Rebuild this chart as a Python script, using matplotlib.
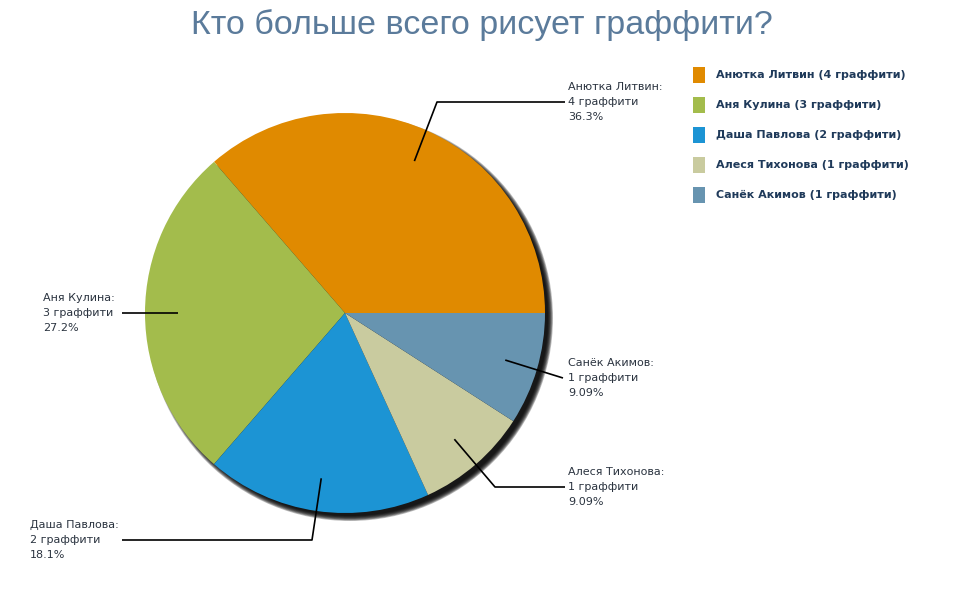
import matplotlib.pyplot as plt
import matplotlib.patches as mpatches
import numpy as np

# data
names = ['Анютка Литвин', 'Аня Кулина', 'Даша Павлова', 'Алеся Тихонова', 'Санёк Акимов']
counts = [4, 3, 2, 1, 1]
pct_labels = ['36.3%', '27.2%', '18.1%', '9.09%', '9.09%']
colors = ['#E08A00', '#A3BC4C', '#1C94D4', '#C9CB9F', '#6794B0']

W, H = 966, 604
fig = plt.figure(figsize=(W / 100, H / 100), dpi=100)
ax = fig.add_axes([0, 0, 1, 1])

def Y(y):
    return H - y

cx, cy, R = 345, Y(313), 200

# soft black shadow to lower right
for k in range(8):
    ax.add_patch(mpatches.Circle((cx + 5, cy - 5), R + 3 - k * 0.7,
                                 color='black', alpha=0.25, lw=0, zorder=1))

wedges, _ = ax.pie(counts, colors=colors, startangle=0, counterclock=True,
                   center=(cx, cy), radius=R, frame=True,
                   wedgeprops=dict(linewidth=0))
for w in wedges:
    w.set_zorder(2)
ax.set_xlim(0, W)
ax.set_ylim(0, H)
ax.set_aspect('equal')
ax.axis('off')

# label layout: (elbow point, end of horizontal line, text anchor)
layout = [
    ((437, 102), (565, 102), (568, 102)),
    ((122, 313), (122, 313), (43, 313)),
    ((312, 540), (122, 540), (30, 540)),
    ((495, 487), (565, 487), (568, 487)),
    ((563, 378), (563, 378), (568, 378)),
]

text_color = '#2B3440'
for w, n, c, p, (elb, end, tp) in zip(wedges, names, counts, pct_labels, layout):
    mid = np.deg2rad((w.theta1 + w.theta2) / 2)
    sx = cx + 0.835 * R * np.cos(mid)
    sy = cy + 0.835 * R * np.sin(mid)
    ax.plot([sx, elb[0], end[0]], [sy, Y(elb[1]), Y(end[1])],
            color='black', lw=1.2, zorder=3, solid_capstyle='butt')
    ax.text(tp[0], Y(tp[1]), f'{n}:\n{c} граффити\n{p}', ha='left', va='center',
            fontsize=8, color=text_color, linespacing=1.65, zorder=4,
            family='DejaVu Sans')

# legend
for i, (n, c, col) in enumerate(zip(names, counts, colors)):
    yy = 75 + i * 30
    ax.add_patch(mpatches.Rectangle((693, Y(yy + 8)), 12, 16, color=col, lw=0))
    ax.text(716, Y(yy), f'{n} ({c} граффити)', ha='left', va='center',
            fontsize=8, fontweight='bold', color='#1F3A5A', family='DejaVu Sans')

ax.text(482, Y(25), 'Кто больше всего рисует граффити?', ha='center', va='center',
        fontsize=24.5, color='#5B7B9B', family='Liberation Sans')

fig.savefig('out.png', dpi=100, facecolor='white')
